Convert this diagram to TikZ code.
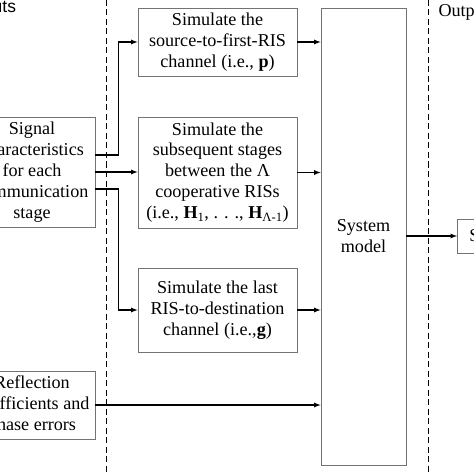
\documentclass[tikz,border=0pt]{standalone}
\usepackage{fontspec}
\setmainfont{Liberation Serif}
\newfontfamily\labelsans{Liberation Sans}
\usetikzlibrary{positioning}

\tikzset{
	blk/.style={draw=black!55, line width=0.8bp, inner sep=0pt, align=center,
			font=\fontsize{18.2}{21}\selectfont},
	wire/.style={line width=1.2bp},
	divider/.style={line width=1bp, dash pattern=on 6bp off 3.5bp}
}

\begin{document}
\begin{tikzpicture}[>=latex, x=1bp, y=-1bp]
	\useasboundingbox (0,0) rectangle (474,474);
	% dashed borders of the input and output regions
	\draw[divider] (106,0) -- (106,474);
	\draw[divider] (428,0) -- (428,474);
	\node[anchor=base east, font=\labelsans\fontsize{17.5}{21}\selectfont] (inlbl) at (19.5,13) {Inputs};
	\node[anchor=base west, font=\fontsize{18.2}{21}\selectfont] (outlbl) at (435,17) {Outputs};

	% inputs
	\node[blk, minimum width=126bp, minimum height=110bp] (sig) at (32,172)
		{Signal\\characteristics\\for each\\communication\\stage};
	\node[blk, minimum width=126bp, minimum height=68bp] (refl) at (32,405)
		{Reflection\\coefficients and\\phase errors};

	% channel simulation
	\node[blk, minimum width=159bp, minimum height=68bp] (chfirst) at (217.5,42)
		{Simulate the\\source-to-first-RIS\\channel (i.e., \textbf{p})};
	\node[blk, minimum width=159bp, minimum height=111bp] (chmid) at (217.5,172.5)
		{Simulate the\\subsequent stages\\between the Λ\\cooperative RISs\\(i.e., \textbf{H}\textsubscript{1}, . . ., \textbf{H}\textsubscript{Λ-1})};
	\node[blk, minimum width=159bp, minimum height=84bp] (chlast) at (217.5,310)
		{Simulate the last\\RIS-to-destination\\channel (i.e.,\textbf{g})};

	\node[blk, minimum width=85bp, minimum height=457bp] (sys) at (363.5,236.5)
		{System\\model};
	\node[blk, anchor=west, minimum height=34bp, inner xsep=12bp] (res) at (457,236)
		{SER};

	% connectors
	\draw[wire, ->] ([yshift=17bp]sig.east) -- ++(23,0) |- (chfirst.west);
	\draw[wire, ->] (sig.east) -- (sig.east -| chmid.west);
	\draw[wire, ->] ([yshift=-17bp]sig.east) -- ++(23,0) |- (chlast.west);
	\draw[wire, ->] (refl.east) -- (refl.east -| sys.west);
	\draw[wire, ->] (chfirst.east) -- (chfirst.east -| sys.west);
	\draw[wire, ->] (chmid.east) -- (chmid.east -| sys.west);
	\draw[wire, ->] (chlast.east) -- (chlast.east -| sys.west);
	\draw[wire, ->] (sys.east |- res.west) -- (res.west);
\end{tikzpicture}
\end{document}
